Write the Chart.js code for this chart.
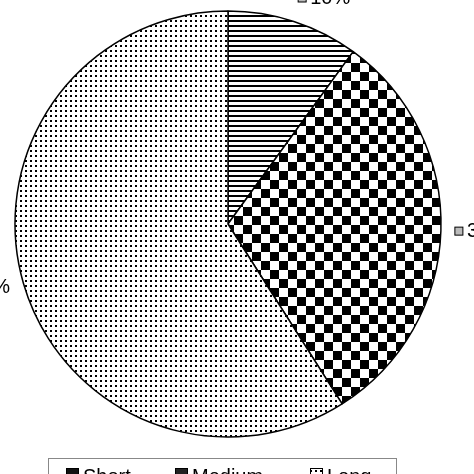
<!DOCTYPE html>
<html>
<head>
<meta charset="utf-8">
<script src="https://cdn.jsdelivr.net/npm/chart.js@4"></script>
<style>
  html, body { margin: 0; padding: 0; background: #fff; }
  #wrap { width: 474px; height: 474px; }
</style>
</head>
<body>
<div id="wrap"><canvas id="pie"></canvas></div>
<script>
// Data
const categories = ['Short', 'Medium', 'Long'];
const shares = [10, 31, 59];
const sliceLabels = ['10%', '31%', '59%'];

function makePattern(kind) {
    const c = document.createElement('canvas');
    const ctx = c.getContext('2d');
    if (kind === 'stripes') {
        c.width = 4; c.height = 5;
        ctx.fillStyle = '#fff'; ctx.fillRect(0, 0, 4, 5);
        ctx.fillStyle = '#000'; ctx.fillRect(0, 0, 4, 2);
    } else if (kind === 'checker') {
        c.width = 18; c.height = 18;
        ctx.fillStyle = '#fff'; ctx.fillRect(0, 0, 18, 18);
        ctx.fillStyle = '#000';
        ctx.fillRect(0, 0, 9, 9);
        ctx.fillRect(9, 9, 9, 9);
    } else {
        c.width = 5; c.height = 5;
        ctx.fillStyle = '#fff'; ctx.fillRect(0, 0, 5, 5);
        ctx.fillStyle = '#000'; ctx.fillRect(0, 0, 2, 2);
    }
    return ctx.createPattern(c, 'repeat');
}

const ctx = document.getElementById('pie').getContext('2d');
const fills = [makePattern('stripes'), makePattern('checker'), makePattern('dots')];
const legendFills = ['#111', '#222', fills[2]];

// outside labels + legend box
const extras = {
    id: 'extras',
    afterDatasetsDraw(chart) {
        const g = chart.ctx;
        const meta = chart.getDatasetMeta(0);
        g.save();
        g.font = '20px Arial, "Liberation Sans", sans-serif';
        g.textBaseline = 'middle';
        meta.data.forEach((arc, i) => {
            const mid = (arc.startAngle + arc.endAngle) / 2;
            const r = arc.outerRadius + 14;
            let x = arc.x + Math.cos(mid) * r;
            let y = arc.y + Math.sin(mid) * r;
            if (i === 0) y = -2;
            const right = Math.cos(mid) >= 0;
            g.fillStyle = '#000';
            g.textAlign = right ? 'left' : 'right';
            if (right) {
                g.fillStyle = '#bbb'; g.fillRect(x, y - 4, 8, 8);
                g.strokeStyle = '#000'; g.lineWidth = 1; g.strokeRect(x, y - 4, 8, 8);
                g.fillStyle = '#000';
                g.fillText(sliceLabels[i], x + 12, y);
            } else {
                g.fillText(sliceLabels[i], x, y);
            }
        });
        // legend
        g.strokeStyle = '#888'; g.lineWidth = 1;
        g.strokeRect(48.5, 458.5, 348, 30);
        const xs = [66, 175, 310];
        categories.forEach((name, i) => {
            g.fillStyle = legendFills[i];
            g.fillRect(xs[i], 468, 12, 12);
            g.strokeStyle = '#000';
            g.strokeRect(xs[i] + 0.5, 468.5, 12, 12);
            g.fillStyle = '#000';
            g.textAlign = 'left';
            g.fillText(name, xs[i] + 17, 477);
        });
        g.restore();
    }
};

new Chart(ctx, {
    type: 'pie',
    data: {
        labels: categories,
        datasets: [{
            data: shares,
            backgroundColor: fills,
            borderColor: '#000',
            borderWidth: 1.5
        }]
    },
    options: {
        responsive: true,
        maintainAspectRatio: false,
        animation: false,
        radius: 213,
        layout: { padding: { top: 0, bottom: 26, left: 0, right: 18 } },
        plugins: { legend: { display: false }, tooltip: { enabled: false } }
    },
    plugins: [extras]
});
</script>
</body>
</html>
